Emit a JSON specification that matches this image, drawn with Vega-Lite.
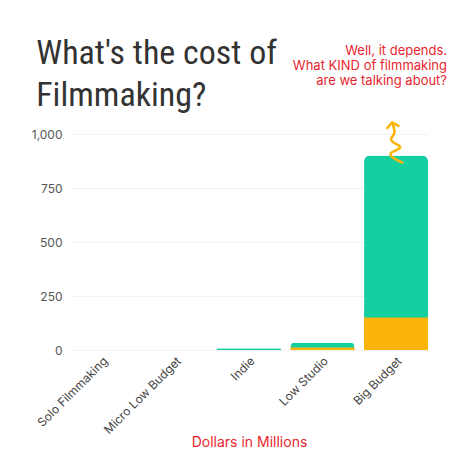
{
  "$schema": "https://vega.github.io/schema/vega-lite/v6.json",
  "autosize": "none",
  "width": 358,
  "height": 216,
  "padding": {"left": 70, "top": 134, "right": 46, "bottom": 124},
  "background": "white",
  "title": {
    "text": ["What's the cost of", "Filmmaking?"],
    "anchor": "start",
    "font": "Roboto Condensed, DejaVu Sans Condensed",
    "fontSize": 34,
    "fontWeight": "normal",
    "color": "#333333",
    "lineHeight": 42,
    "offset": -68,
    "dx": 5
  },
  "config": {
    "view": {"stroke": null},
    "font": "Inter"
  },
  "data": {
    "values": [
      {"budget": "Solo Filmmaking", "total": 0.6, "below": 0},
      {"budget": "Micro Low Budget", "total": 0.4, "below": 0},
      {"budget": "Indie", "total": 8, "below": 0},
      {"budget": "Low Studio", "total": 34, "below": 12},
      {"budget": "Big Budget", "total": 900, "below": 150}
    ]
  },
  "layer": [
    {
      "mark": {"type": "bar", "color": "#14CFA0", "cornerRadiusTopLeft": 6, "cornerRadiusTopRight": 6},
      "encoding": {
        "x": {
          "field": "budget",
          "type": "nominal",
          "sort": null,
          "scale": {"paddingInner": 0.13, "paddingOuter": 0},
          "axis": {
            "title": "Dollars in Millions",
            "titleColor": "#E8252E",
            "titleFontSize": 14,
            "titleFontWeight": "normal",
            "titlePadding": 0,
            "labelAngle": -45,
            "labelColor": "#444444",
            "labelFontSize": 12,
            "labelPadding": 5,
            "domain": false,
            "ticks": false
          }
        },
        "y": {
          "field": "total",
          "type": "quantitative",
          "scale": {"domain": [0, 1000], "nice": false},
          "axis": {
            "title": null,
            "values": [0, 250, 500, 750, 1000],
            "format": ",.0f",
            "labelColor": "#555555",
            "labelFontSize": 12,
            "labelPadding": 8,
            "gridColor": "#F2F2F2",
            "domain": false,
            "ticks": false
          }
        }
      }
    },
    {
      "mark": {"type": "bar", "color": "#FBB40A"},
      "encoding": {
        "x": {"field": "budget", "type": "nominal", "sort": null},
        "y": {"field": "below", "type": "quantitative"}
      }
    },
    {
      "data": {"values": [{"budget": "Big Budget", "level": 963}]},
      "mark": {
        "type": "point",
        "filled": false,
        "stroke": "#FBB40A",
        "strokeWidth": 2.5,
        "opacity": 1,
        "size": 1700,
        "strokeCap": "round",
        "shape": "M0.3,1 C0,0.85 -0.45,0.65 -0.2,0.5 C0.1,0.35 0.35,0.3 0.1,0.15 C-0.2,0 -0.35,-0.1 -0.15,-0.3 C0,-0.45 -0.1,-0.7 -0.19,-0.95 M-0.42,-0.68 L-0.19,-0.95 L0.12,-0.78"
      },
      "encoding": {
        "x": {"field": "budget", "type": "nominal", "sort": null},
        "y": {"field": "level", "type": "quantitative"}
      }
    },
    {
      "data": {"values": [{"budget": "Big Budget", "level": 1383, "note": "Well, it depends.\nWhat KIND of filmmaking\nare we talking about?"}]},
      "mark": {
        "type": "text",
        "align": "right",
        "baseline": "middle",
        "dx": 51,
        "color": "#E8252E",
        "fontSize": 13,
        "lineHeight": 15,
        "lineBreak": "\n",
        "clip": false
      },
      "encoding": {
        "x": {"field": "budget", "type": "nominal", "sort": null},
        "y": {"field": "level", "type": "quantitative"},
        "text": {"field": "note"}
      }
    }
  ]
}
